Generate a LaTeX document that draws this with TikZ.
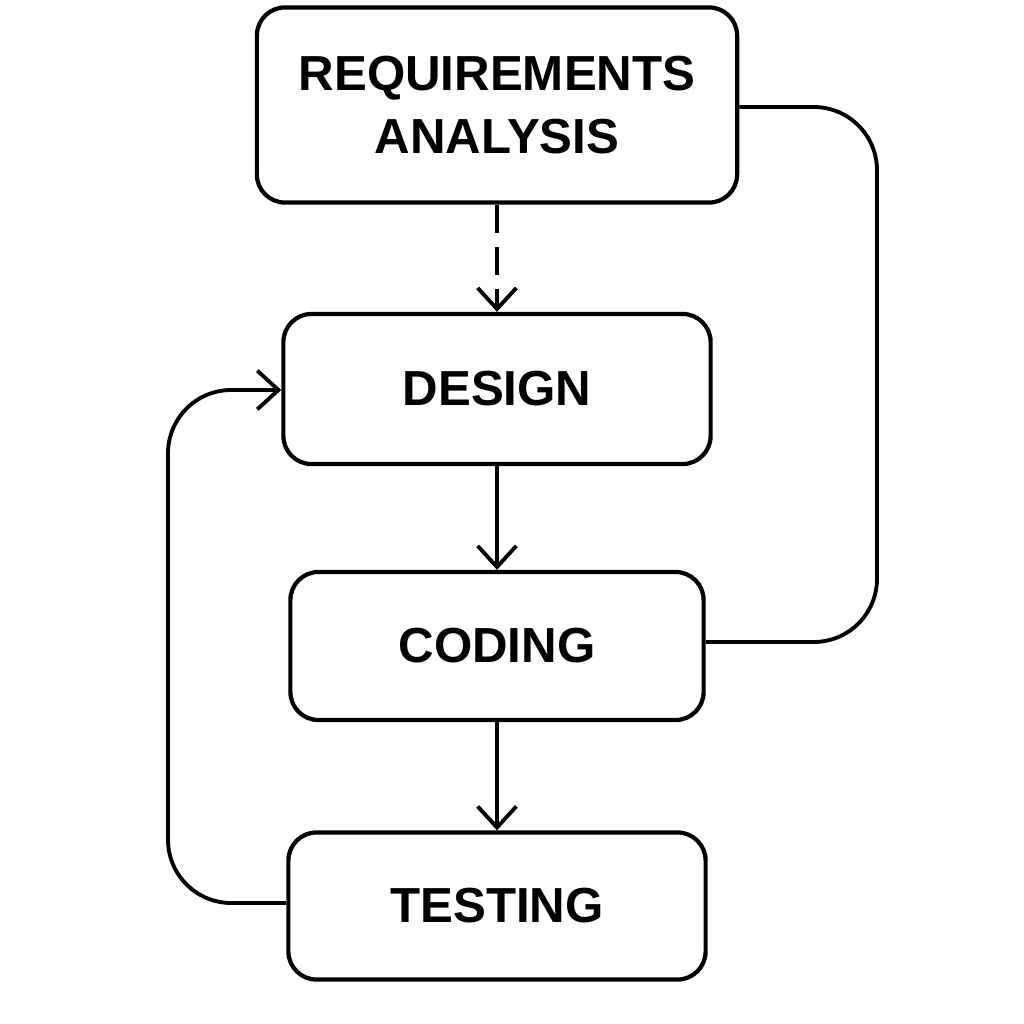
\documentclass[tikz,border=0pt]{standalone}
\usepackage{fontspec}
\setmainfont{Liberation Sans}
\usetikzlibrary{arrows.meta}
\tikzset{
    stage/.style={draw, line width=1.2pt, rounded corners=8pt, align=center,
        font=\fontsize{14}{18}\selectfont\bfseries},
    flow/.style={line width=1.1pt, -{Straight Barb[length=6pt,width=11pt]}},
}
\begin{document}
\begin{tikzpicture}[x=0.01cm, y=-0.01cm]
    \useasboundingbox (0, 0) rectangle (1024, 1024);
    \node [stage, minimum width=4.8cm, minimum height=1.95cm] (req) at (497, 105) {REQUIREMENTS\\ANALYSIS};
    \node [stage, minimum width=4.27cm, minimum height=1.5cm] (design) at (497, 389) {DESIGN};
    \node [stage, minimum width=4.13cm, minimum height=1.48cm] (coding) at (497, 646) {CODING};
    \node [stage, minimum width=4.17cm, minimum height=1.47cm] (testing) at (497, 906) {TESTING};

    \draw [flow, dash pattern=on 8pt off 4pt] (req) -- (design);
    \draw [flow] (design) -- (coding);
    \draw [flow] (coding) -- (testing);
    \coordinate (tl) at (168, 903);
    \coordinate (dl) at (168, 390);
    \draw [flow, rounded corners=18pt] (testing.west |- tl) -- (tl) -- (dl) -- (design.west |- dl);
    \coordinate (cr) at (877, 642);
    \coordinate (rr) at (877, 107);
    \draw [line width=1.1pt, rounded corners=18pt] (coding.east |- cr) -- (cr) -- (rr) -- (req.east |- rr);
\end{tikzpicture}
\end{document}
